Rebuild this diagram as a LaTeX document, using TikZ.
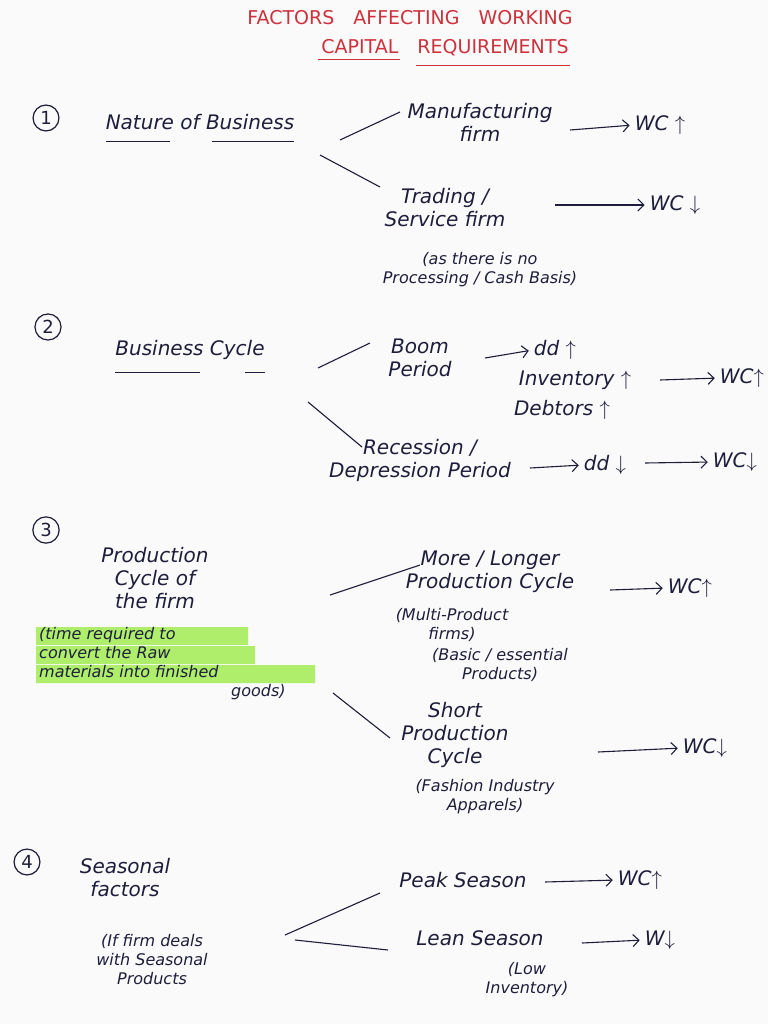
\documentclass[tikz,border=0pt]{standalone}
\usepackage{fontspec}
\setmainfont{DejaVu Sans}
\usetikzlibrary{arrows.meta}
\definecolor{ink}{RGB}{30,30,60}
\definecolor{redink}{RGB}{205,50,60}
\definecolor{hl}{RGB}{150,235,60}
\tikzset{
 txt/.style={text=ink,font=\itshape\fontsize{20}{23}\selectfont,align=center,inner sep=1pt},
 sml/.style={text=ink,font=\itshape\fontsize{16}{19}\selectfont,align=center,inner sep=1pt},
 ttl/.style={text=redink,font=\fontsize{19}{21}\selectfont,inner sep=1pt},
 lnk/.style={draw=ink,line width=1.1pt},
 arr/.style={draw=ink,line width=1.1pt,-{Straight Barb[length=6pt]},shorten >=4pt},
 num/.style={circle,draw=ink,line width=1.2pt,text=ink,inner sep=3pt,font=\fontsize{18}{18}\selectfont},
 ul/.style={draw=ink,line width=1pt}
}
\begin{document}
\begin{tikzpicture}[x=1pt,y=-1pt]
\fill[white!96!gray] (0,0) rectangle (768,1024);
\useasboundingbox (0,0) rectangle (768,1024);
% title
\node[ttl] (t1) at (410,18) {FACTORS\quad AFFECTING\quad WORKING};
\node[ttl] (t2) at (445,48) {CAPITAL\quad REQUIREMENTS};
\draw[draw=redink,line width=1pt] (318,60) -- (400,60) (416,66) -- (570,66);
% section 1
\node[num] (n1) at (46,118) {1};
\node[txt] (nob) at (200,122) {Nature of Business};
\draw[ul] (106,142) -- (170,142) (212,142) -- (294,142);
\node[txt] (mf) at (480,122) {Manufacturing\\firm};
\node[txt] (wc1) at (660,125) {WC $\uparrow$};
\node[txt] (tr) at (445,208) {Trading /\\Service firm};
\node[txt] (wc2) at (675,205) {WC $\downarrow$};
\node[sml] (n1b) at (480,270) {(as there is no\\Processing / Cash Basis)};
\draw[lnk] (340,140) -- (400,112);
\draw[lnk] (320,155) -- (380,187);
\draw[arr] (570,130) -- (wc1.west);
\draw[arr] (555,205) -- (wc2.west);
% section 2
\node[num] (n2) at (48,327) {2};
\node[txt] (bc) at (190,350) {Business Cycle};
\draw[ul] (115,372) -- (200,372) (245,372) -- (265,372);
\node[txt] (bp) at (420,358) {Boom\\Period};
\node[txt] (dd1) at (555,350) {dd $\uparrow$};
\node[txt] (inv) at (575,380) {Inventory $\uparrow$};
\node[txt] (wc3) at (742,378) {WC$\uparrow$};
\node[txt] (deb) at (562,410) {Debtors $\uparrow$};
\node[txt] (rp) at (420,460) {Recession /\\Depression Period};
\node[txt] (dd2) at (605,465) {dd $\downarrow$};
\node[txt] (wc4) at (735,462) {WC$\downarrow$};
\draw[lnk] (318,368) -- (370,343);
\draw[lnk] (308,402) -- (362,447);
\draw[arr] (485,358) -- (dd1.west);
\draw[arr] (660,380) -- (wc3.west);
\draw[arr] (530,468) -- (dd2.west);
\draw[arr] (645,463) -- (wc4.west);
% section 3
\node[num] (n3) at (46,530) {3};
\node[txt] (pc) at (155,578) {Production\\Cycle of\\the firm};
\fill[hl,opacity=.75] (36,627) rectangle (248,645) (36,646) rectangle (255,664) (36,665) rectangle (315,683);
\node[sml,align=left,anchor=north west] (pcn) at (38,626) {(time required to\\convert the Raw\\materials into finished\\\hspace*{12em}goods)};
\node[txt] (ml) at (490,572) {More / Longer\\Production Cycle};
\node[txt] (wc5) at (690,588) {WC$\uparrow$};
\node[sml] (mp) at (452,625) {(Multi-Product\\firms)};
\node[sml] (be) at (500,665) {(Basic / essential\\Products)};
\node[txt] (sp) at (455,735) {Short\\Production\\Cycle};
\node[sml] (fa) at (485,797) {(Fashion Industry\\Apparels)};
\node[txt] (wc6) at (705,748) {WC$\downarrow$};
\draw[lnk] (330,595) -- (420,565);
\draw[lnk] (333,693) -- (390,738);
\draw[arr] (610,590) -- (wc5.west);
\draw[arr] (598,752) -- (wc6.west);
% section 4
\node[num] (n4) at (27,862) {4};
\node[txt] (sf) at (125,878) {Seasonal\\factors};
\node[sml] (sfn) at (152,960) {(If firm deals\\with Seasonal\\Products};
\node[txt] (pk) at (463,880) {Peak Season};
\node[txt] (wc7) at (640,880) {WC$\uparrow$};
\node[txt] (ls) at (480,938) {Lean Season};
\node[txt] (wc8) at (660,940) {W$\downarrow$};
\node[sml] (li) at (527,980) {(Low\\Inventory)};
\draw[lnk] (285,935) -- (380,893);
\draw[lnk] (295,940) -- (388,950);
\draw[arr] (545,882) -- (wc7.west);
\draw[arr] (582,943) -- (wc8.west);
\end{tikzpicture}
\end{document}
